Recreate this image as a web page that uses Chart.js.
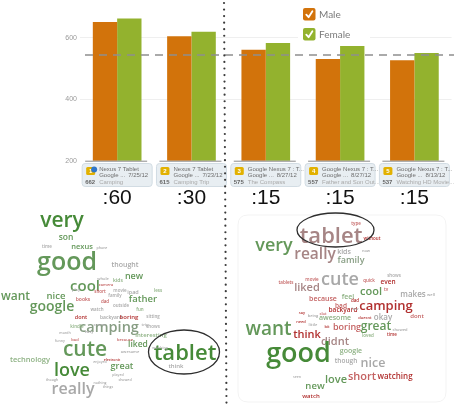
<!DOCTYPE html>
<html>
<head>
<meta charset="utf-8">
<title>Ad scores by gender</title>
<script src="https://cdn.jsdelivr.net/npm/chart.js@4/dist/chart.umd.min.js"></script>
<style>
  html, body { margin: 0; padding: 0; background: #fff; width: 454px; height: 409px; overflow: hidden; }
  #barWrap { position: absolute; left: 0; top: 0; width: 454px; height: 215px; }
  #cloudWrap { position: absolute; left: 0; top: 205px; width: 454px; height: 204px; }
  canvas { display: block; }
</style>
</head>
<body>
<div id="barWrap"><canvas id="bars" width="454" height="215"></canvas></div>
<div id="cloudWrap"><canvas id="clouds" width="454" height="204"></canvas></div>
<script>
// ---- ad scores ----
const spotLengths   = [':60', ':30', ':15', ':15', ':15'];
const maleScores    = [652, 605, 561, 531, 527];
const femaleScores  = [663, 620, 583, 574, 551];
const overallScores = [662, 615, 575, 557, 537];
const adNames   = ['Nexus 7 Tablet', 'Nexus 7 Tablet', 'Google Nexus 7 : T...', 'Google Nexus 7 : T...', 'Google Nexus 7 : T...'];
const advertisers = ['Google ...', 'Google ...', 'Google ...', 'Google ...', 'Google ...'];
const airDates  = ['7/25/12', '7/23/12', '8/27/12', '8/27/12', '8/13/12'];
const spotTitles = ['Camping', 'Camping Trip', 'The Compass', 'Father and Son Out...', 'Watching HD Movie...'];
const yTicks = [200, 400, 600];
const normScore = 544;

// ---- word clouds: word, weight, tone ----
const leftWords   = ['very','son','time','nexus','phone','good','thought','cool','whole','camera','new','want','nice','father','google','camping','interesting','shows','cute','liked','tablet','think','technology','love','great','really',
  'books','ipad','dont','backyard','boring','sitting','less','movie','kids','family','dad','watch','fun','outside','short','play','screen','kindle','easy','trip','because','electronic','enjoyed','played','showed','bad','month','watching','funny','awesome','though','nothing','things'];
const leftWeights = [21,8.5,4.5,7.5,3.5,25,7,15,4,4,9,12,9.5,9.5,14,14.5,6,4.5,21,8.5,22,6,7.5,18,9,16,
  5,5.5,5.5,5,6,4.5,4.5,4.5,5,4.5,4.5,4.5,4.5,4.5,4.5,4,4,4.5,4,4,4,3.5,3.5,3.5,3.5,4,3.5,3.5,3.5,4,3.5,3.5,3.5];
const leftTones   = ['G','g','n','g','n','g','n','g','n','r','g','g','g','g','g','x','l','n','g','g','G','n','l','G','g','n',
  'r','n','R','n','R','n','l','n','l','n','r','n','l','n','r','n','n','l','n','n','r','R','n','n','n','r','n','n','n','n','n','n','n'];
const leftLayout  = [[62,221],[66,238],[47,247],[82,247],[102,248],[67,263],[125,265],[85,287],[103,279],[106,285],[134,276.5],[15.5,296.5],[56,296],[143,299.5],[52,307],[109,327.7],[151,335],[153,327],[85,350],[138,345],[185,354],[176,366],[30,360],[72,371],[122,366.5],[73,389.7],
  [83,300],[133,292],[81,317],[111,318],[129,317],[153,317],[158,291],[120,291],[118,281],[115,296],[105,302],[97,310],[140,310],[121,306],[100,292],[76,290],[100,325],[77,327],[89,332],[145,325],[125,340],[112,360],[100,362],[118,375],[125,380],[75,340],[65,333],[160,348],[60,341],[130,352],[52,380],[100,383],[108,387]];

const rightWords   = ['tablet','type','without','very','really','kids','now','family','cute','tablets','movie','liked','shows','quick','even','cool','tv','makes','well','feel','because','dad','camping','bad','backyard','low','dont','say','being','slot','awesome','doesnt','okay','need','little','want','think','bit','boring','great','showed','time','loved','didnt','good','google','though','nice','seen','love','short','watching','new','watch'];
const rightWeights = [22,4.5,4.5,18,15.5,7,4,9,18,4.5,4.5,11,4.5,4.5,6.5,11,4.5,8,4,7,7,4.5,13,6.5,6.5,4,6,4,4,4,7,4,8,4,4,19,11,4,9,12,4,4.5,4.5,11,27,7,6.5,12.5,3.5,11,11,8,9.5,6];
const rightTones   = ['m','r','R','g','m','n','n','x','n','r','r','m','n','r','R','g','r','n','n','l','r','R','R','r','R','n','r','R','n','r','l','R','n','R','n','g','R','R','r','g','n','R','l','m','G','l','n','n','n','g','r','R','g','R'];
const rightLayout  = [[331,237],[356,224],[372,239],[274,246],[315,255],[344,251.5],[366,251],[351,260.5],[340,280],[286,283],[312,280],[307,287.5],[394,276],[369,281],[388,282],[371,291.5],[386,290],[413,295],[431,295],[348,297],[323,299],[355,301],[386,306.5],[341,306],[343,310.5],[355,309],[417,316],[302,313],[313,316],[323,314],[335,318],[365,318],[383,318],[301,322],[313,325],[268.5,330],[307,335],[327,327],[347,327],[376,326.5],[400,330],[392,335],[368,336],[335,342],[298.5,354.5],[351,351],[346,361],[373,363],[297,377],[336,380],[362,377],[395,376.5],[315,386],[311,396]];

const toneColors = {
  G: '#468a38', g: '#64985a', l: '#8db183', x: '#879d83',
  n: '#a8a8a8', m: '#a68585', r: '#c46262', R: '#b1302f'
};

const MALE = '#d2730b';
const FEMALE = '#93b22e';

// dotted divider between the long spots and the :15 spots (page coordinates)
function dividerDots(ctx, pageTop, fromY, toY) {
  ctx.save();
  ctx.fillStyle = '#3a3a3a';
  for (let y = 3; y < 409; y += 6.55) {
    if (y < fromY || y >= toY) continue;
    const x = 224 + (y / 409) * 2.5;
    ctx.beginPath();
    ctx.arc(x, y - pageTop, 1.1, 0, Math.PI * 2);
    ctx.fill();
  }
  ctx.restore();
}

function roundRect(ctx, x, y, w, h, r) {
  ctx.beginPath();
  ctx.moveTo(x + r, y);
  ctx.lineTo(x + w - r, y);
  ctx.quadraticCurveTo(x + w, y, x + w, y + r);
  ctx.lineTo(x + w, y + h - r);
  ctx.quadraticCurveTo(x + w, y + h, x + w - r, y + h);
  ctx.lineTo(x + r, y + h);
  ctx.quadraticCurveTo(x, y + h, x, y + h - r);
  ctx.lineTo(x, y + r);
  ctx.quadraticCurveTo(x, y, x + r, y);
  ctx.closePath();
}

// baseline segments, norm line, spot cards and legend
const barDecor = {
  id: 'barDecor',
  afterDatasetsDraw(chart) {
    const ctx = chart.ctx, xs = chart.scales.x, ys = chart.scales.y;
    const base = ys.getPixelForValue(yTicks[0]);
    ctx.save();
    ctx.strokeStyle = '#8c8c8c';
    ctx.lineWidth = 1;
    spotLengths.forEach((_, i) => {
      const cx = xs.getPixelForValue(i);
      ctx.beginPath();
      ctx.moveTo(cx - 32, base + 0.5);
      ctx.lineTo(cx + 30, base + 0.5);
      ctx.stroke();
    });
    // norm line
    const ny = ys.getPixelForValue(normScore);
    ctx.strokeStyle = '#8f8f8f';
    ctx.lineWidth = 1.5;
    ctx.setLineDash([8, 6]);
    ctx.beginPath();
    ctx.moveTo(85, ny);
    ctx.lineTo(chart.width, ny);
    ctx.stroke();
    ctx.restore();
  },
  afterDraw(chart) {
    const ctx = chart.ctx, xs = chart.scales.x;
    ctx.save();
    spotLengths.forEach((_, i) => {
      const cx = xs.getPixelForValue(i);
      const left = cx - 35, top = 163.5, w = 70, h = 23;
      roundRect(ctx, left, top, w, h, 3);
      ctx.fillStyle = '#e8eef2';
      ctx.fill();
      ctx.strokeStyle = '#d2dce3';
      ctx.lineWidth = 1;
      ctx.stroke();
      // rank badge
      roundRect(ctx, left + 4, top + 3.5, 9, 8, 1.5);
      ctx.fillStyle = '#e2b100';
      ctx.fill();
      ctx.fillStyle = '#fff';
      ctx.font = 'bold 6px "Liberation Sans"';
      ctx.textAlign = 'center';
      ctx.textBaseline = 'middle';
      ctx.fillText(String(i + 1), left + 8.5, top + 7.6);
      if (i === 0) {
        ctx.fillStyle = '#2f76c9';
        ctx.beginPath();
        ctx.arc(left + 12, top + 6, 3, 0, Math.PI * 2);
        ctx.fill();
      }
      ctx.font = '6px "Liberation Sans"';
      ctx.textAlign = 'left';
      ctx.fillStyle = '#6d6d6d';
      ctx.fillText(adNames[i], left + 17, top + 5.5);
      ctx.fillText(advertisers[i], left + 17, top + 12.2);
      ctx.textAlign = 'right';
      ctx.fillText(airDates[i], left + w - 4, top + 12.2);
      ctx.textAlign = 'left';
      ctx.font = 'bold 6px "Liberation Sans"';
      ctx.fillStyle = '#666';
      ctx.fillText(String(overallScores[i]), left + 3, top + 19);
      ctx.font = '6px "Liberation Sans"';
      ctx.fillStyle = '#a9a9a9';
      ctx.fillText(spotTitles[i], left + 17, top + 19);
    });

    // legend with check boxes
    ctx.fillStyle = '#fff';
    ctx.fillRect(298, 3, 72, 42);
    chart.data.datasets.forEach((ds, k) => {
      const bx = 303, by = 8 + k * 20;
      roundRect(ctx, bx, by, 12.5, 12.5, 2);
      ctx.fillStyle = ds.backgroundColor;
      ctx.fill();
      ctx.strokeStyle = '#fff';
      ctx.lineWidth = 1.8;
      ctx.lineCap = 'round';
      ctx.lineJoin = 'round';
      ctx.beginPath();
      ctx.moveTo(bx + 3.3, by + 6.6);
      ctx.lineTo(bx + 5.6, by + 9.2);
      ctx.lineTo(bx + 9.4, by + 3.3);
      ctx.stroke();
      ctx.fillStyle = '#7a7a7a';
      ctx.font = '10px Lato';
      ctx.textAlign = 'left';
      ctx.textBaseline = 'middle';
      ctx.fillText(ds.label, 319, by + 6.8);
    });
    ctx.restore();
    dividerDots(ctx, 0, 0, 212);
  }
};

new Chart(document.getElementById('bars'), {
  type: 'bar',
  data: {
    labels: spotLengths,
    datasets: [
      { label: 'Male', data: maleScores, backgroundColor: MALE, categoryPercentage: 0.655, barPercentage: 1 },
      { label: 'Female', data: femaleScores, backgroundColor: FEMALE, categoryPercentage: 0.655, barPercentage: 1 }
    ]
  },
  options: {
    responsive: false,
    animation: false,
    events: [],
    layout: { padding: { top: 7, left: 0, right: 0, bottom: 0 } },
    plugins: { legend: { display: false }, tooltip: { enabled: false } },
    scales: {
      x: {
        grid: { display: false, drawTicks: false },
        border: { display: false },
        ticks: { padding: 25, color: '#111', font: { family: 'Liberation Sans', size: 21 }, maxRotation: 0, autoSkip: false },
        afterFit(s) { s.height = 54.3; }
      },
      y: {
        min: 200, max: 700,
        afterBuildTicks(s) { s.ticks = yTicks.map(v => ({ value: v })); },
        afterFit(s) { s.width = 80; },
        border: { display: false },
        grid: {
          drawTicks: false,
          lineWidth: 1,
          color: c => (c.tick && c.tick.value === yTicks[0]) ? 'rgba(0,0,0,0)' : '#efefef'
        },
        ticks: { padding: 3, color: '#9a9a9a', font: { family: 'Liberation Sans', size: 7 } }
      }
    }
  },
  plugins: [barDecor]
});

// word clouds drawn at the scatter points
const cloudSets = [
  { words: leftWords, weights: leftWeights, tones: leftTones, layout: leftLayout, ring: { dx: -1, dy: -2, rx: 35.5, ry: 22 } },
  { words: rightWords, weights: rightWeights, tones: rightTones, layout: rightLayout, ring: { dx: 4.5, dy: -7, rx: 38.5, ry: 17 } }
];

const cloudDecor = {
  id: 'cloudDecor',
  beforeDatasetsDraw(chart) {
    const ctx = chart.ctx;
    // faint panel around the :15 cloud
    const xs = chart.scales.x, ys = chart.scales.y;
    ctx.save();
    const l = xs.getPixelForValue(238), r = xs.getPixelForValue(446);
    const t = ys.getPixelForValue(215), b = ys.getPixelForValue(402);
    roundRect(ctx, l, t, r - l, b - t, 10);
    ctx.strokeStyle = '#f3f3f3';
    ctx.lineWidth = 1;
    ctx.stroke();
    ctx.restore();
  },
  afterDatasetsDraw(chart) {
    const ctx = chart.ctx;
    ctx.save();
    ctx.textAlign = 'center';
    ctx.textBaseline = 'middle';
    cloudSets.forEach((set, di) => {
      const meta = chart.getDatasetMeta(di);
      meta.data.forEach((pt, j) => {
        ctx.font = '600 ' + set.weights[j] + 'px "Open Sans"';
        ctx.fillStyle = toneColors[set.tones[j]];
        ctx.fillText(set.words[j], pt.x, pt.y);
      });
      // ring round the product word
      const k = set.words.indexOf('tablet');
      const p = meta.data[k];
      ctx.beginPath();
      ctx.ellipse(p.x + set.ring.dx, p.y + set.ring.dy, set.ring.rx, set.ring.ry, 0, 0, Math.PI * 2);
      ctx.strokeStyle = '#2e2e2e';
      ctx.lineWidth = 1.3;
      ctx.stroke();
    });
    ctx.restore();
    dividerDots(ctx, 205, 212, 409);
  }
};

new Chart(document.getElementById('clouds'), {
  type: 'scatter',
  data: {
    datasets: cloudSets.map(set => ({
      data: set.layout.map(p => ({ x: p[0], y: p[1] })),
      pointRadius: 0
    }))
  },
  options: {
    responsive: false,
    animation: false,
    events: [],
    layout: { padding: 0 },
    plugins: { legend: { display: false }, tooltip: { enabled: false } },
    scales: {
      x: { display: false, min: 0, max: 454 },
      y: { display: false, min: 205, max: 409, reverse: true }
    }
  },
  plugins: [cloudDecor]
});
</script>
</body>
</html>
